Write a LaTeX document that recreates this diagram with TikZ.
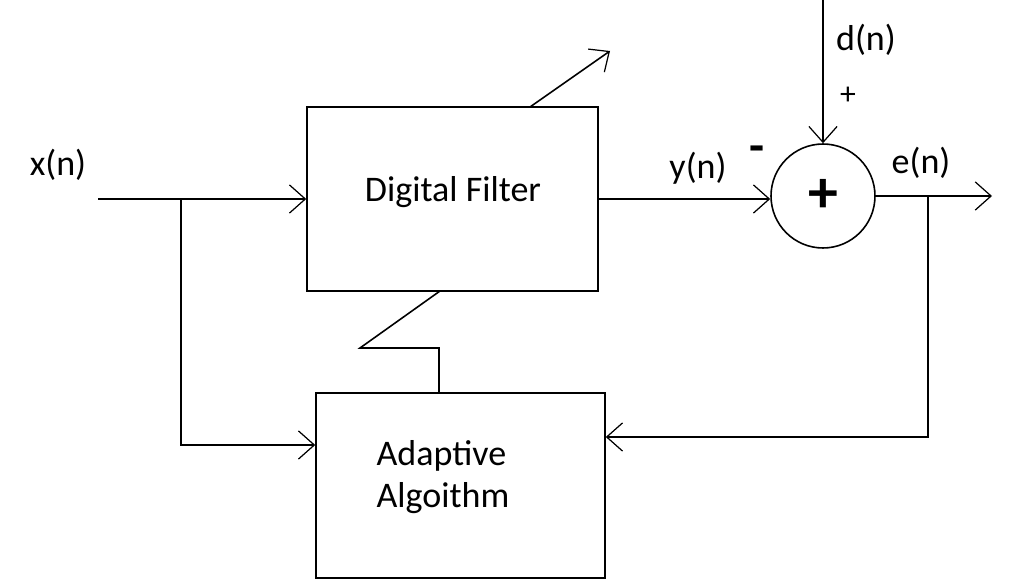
\documentclass[tikz,border=0pt]{standalone}
\usepackage{fontspec}
\setmainfont{Carlito}
\usetikzlibrary{positioning}
\usetikzlibrary{arrows.meta}
\usetikzlibrary{calc}

\tikzset{
  blockbox/.style={draw, line width=0.9pt, inner sep=0pt},
  sumnode/.style={draw, circle, line width=0.9pt, minimum size=2.08cm, inner sep=0pt},
  sig/.style={line width=0.9pt},
  arr/.style={sig, -{Straight Barb[length=9pt,width=16pt,line width=0.7pt]}},
  lbl/.style={font=\fontsize{20.5}{24}\selectfont, inner sep=0pt}
}

\begin{document}
\begin{tikzpicture}[x=0.02cm, y=-0.02cm]
                % Fix the page size
                \useasboundingbox (0,0) rectangle (1032,584);

                % Blocks
                \node[blockbox, minimum width=5.82cm, minimum height=3.68cm] (filter) at (452.5,199) {};
                \node[lbl] (filtertxt) at (453,192) {Digital Filter};
                \node[blockbox, minimum width=5.78cm, minimum height=3.70cm] (adapt) at (460.5,485.5) {};
                \node[lbl, align=left] (adapttxt) at (443,477) {Adaptive\\Algoithm};
                \node[sumnode, font=\fontsize{34}{36}\selectfont\bfseries] (sum) at (823,196) {+};

                % Define the coordinates of the points
                \coordinate (xin) at (98,199);
                \coordinate (xsplit) at (181,199);
                \coordinate (xcorner) at (181,445);
                \coordinate (dtop) at (823,0);
                \coordinate (eout) at (992,196);
                \coordinate (esplit) at (928,196);
                \coordinate (ecorner) at (928,437);
                \coordinate (tapA) at (439,348);
                \coordinate (tapB) at (360,348);
                \coordinate (tapC) at (440,291);
                \coordinate (tiltA) at (530,107);
                \coordinate (tiltB) at (610,51);

                % Draw the lines
                \draw[arr] (xin) -- (filter.west);
                \draw[arr] (xsplit) -- (xcorner) -- (xcorner -| adapt.west);
                \draw[arr] (filter.east) -- (filter.east -| sum.west);
                \draw[arr] (dtop) -- (sum.north);
                \draw[arr] (sum.east) -- (eout);
                \draw[arr] (esplit) -- (ecorner) -- (ecorner -| adapt.east);
                \draw[sig] (tapA |- adapt.north) -- (tapA) -- (tapB) -- (tapC);
                \draw[arr] (tiltA) -- (tiltB);

                % Labels
                \node[lbl] (xlbl) at (58,165) {x(n)};
                \node[lbl] (ylbl) at (698,168) {y(n)};
                \node[lbl] (dlbl) at (866,40) {d(n)};
                \node[lbl] (elbl) at (921,163) {e(n)};
                \node[lbl, font=\fontsize{28}{30}\selectfont\bfseries] (minus) at (757,154) {-};
                \node[lbl, font=\fontsize{18}{20}\selectfont] (plus) at (848,96) {+};

            \end{tikzpicture}
\end{document}
